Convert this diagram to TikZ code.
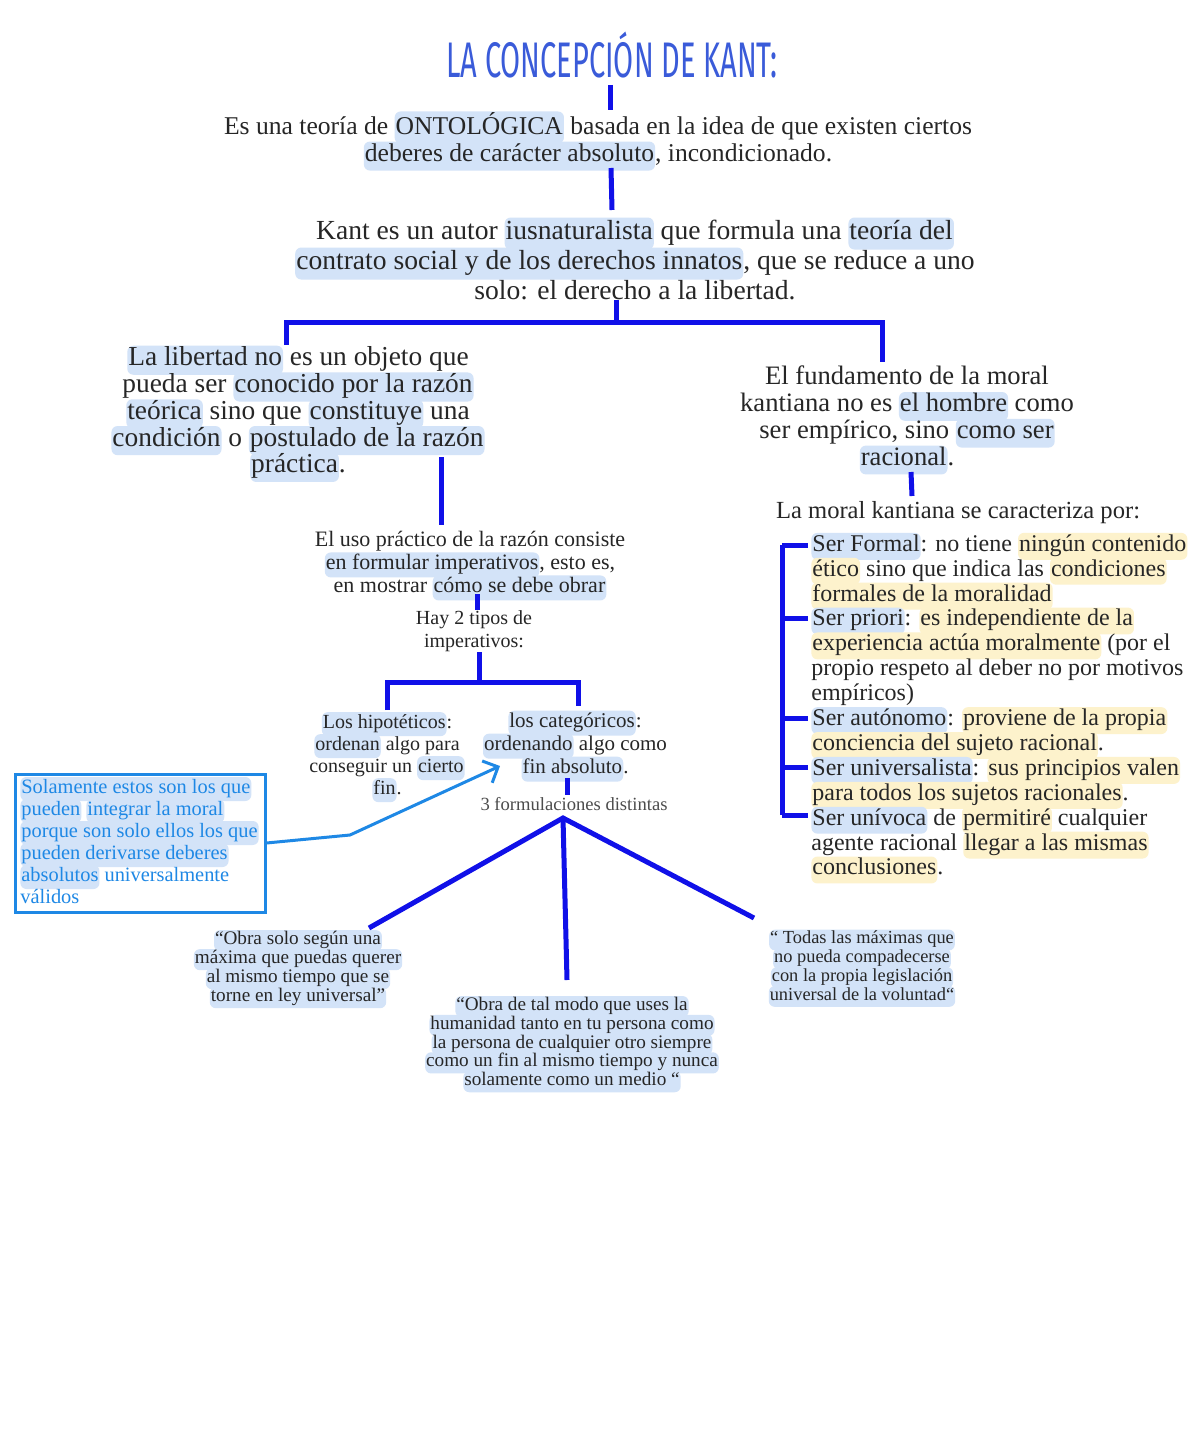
\documentclass[tikz,border=0pt]{standalone}
\usepackage{fontspec}
\usetikzlibrary{arrows.meta}
\setmainfont{Liberation Serif}
\newfontfamily\titlefont{Fira Sans}
\definecolor{hlb}{HTML}{D3E3F8}
\definecolor{hly}{HTML}{FDF2CC}
\definecolor{lineblue}{HTML}{1010E8}
\definecolor{boxblue}{HTML}{1E88E5}
\definecolor{titleblue}{HTML}{3A5BD9}
\newcommand{\hlx}[2]{\smash{\tikz[baseline=(hh.base)]\node[fill=#1,rounded corners=3pt,inner xsep=0.5pt,inner ysep=0.5pt,outer sep=0pt,anchor=base](hh){\strut #2};}}
\newcommand{\hb}[1]{\hlx{hlb}{#1}}
\newcommand{\hy}[1]{\hlx{hly}{#1}}
\tikzset{
 ln/.style={draw=lineblue,line width=2.5pt},
 txt/.style={align=center,inner sep=0pt,text=black!85},
 fs/.style 2 args={font=\fontsize{#1}{#2}\selectfont},
}
\begin{document}
\begin{tikzpicture}[x=0.5pt,y=-0.5pt]
\useasboundingbox (0,0) rectangle (1200,1449);
\fill[white] (0,0) rectangle (1200,1449);
\node[text=titleblue,font=\titlefont\fontsize{25}{28}\selectfont] (title) at (612,55) {\scalebox{0.58}[1]{LA CONCEPCIÓN DE KANT:}};
\node[txt,fs={12.8}{13.5}] (t1) at (598,141) {Es una teoría de \hb{ONTOLÓGICA} basada en la idea de que existen ciertos\\ \hb{deberes de carácter absoluto}, incondicionado.};
\node[txt,fs={13.8}{15}] (t2) at (635,260) {Kant es un autor \hb{iusnaturalista} que formula una \hb{teoría del}\\ \hb{contrato social y de los derechos innatos}, que se reduce a uno\\ solo: el derecho a la libertad.};
\node[txt,fs={13.7}{13.4}] (l1) at (298,410) {\hb{La libertad no} es un objeto que\\ pueda ser \hb{conocido por la razón}\\ \hb{teórica} sino que \hb{constituye} una\\ \hb{condición} o \hb{postulado de la razón}\\ \hb{práctica}.};
\node[txt,fs={13.3}{13.4}] (r1) at (907,416) {El fundamento de la moral\\ kantiana no es \hb{el hombre} como\\ ser empírico, sino \hb{como ser}\\ \hb{racional}.};
\node[txt,fs={11}{11.5}] (uso) at (470,562) {El uso práctico de la razón consiste\\ \hb{en formular imperativos}, esto es,\\ en mostrar \hb{cómo se debe obrar}};
\node[txt,fs={10}{11.5}] (hay) at (474,631) {Hay 2 tipos de\\ imperativos:};
\node[txt,fs={10}{11}] (hip) at (387,757) {\hb{Los hipotéticos}:\\ \hb{ordenan} algo para\\ conseguir un \hb{cierto}\\ \hb{fin}.};
\node[txt,fs={10.5}{11.5}] (cat) at (575,746) {\hb{los categóricos}:\\ \hb{ordenando} algo como\\ \hb{fin absoluto}.};
\node[txt,fs={9.3}{10},text=black!70] (tres) at (574,804) {3 formulaciones distintas};
\node[txt,fs={9.6}{9.5}] (q1) at (298,973) {\hb{“Obra solo según una}\\ \hb{máxima que puedas querer}\\ \hb{al mismo tiempo que se}\\ \hb{torne en ley universal”}};
\node[txt,fs={9.6}{9.4}] (q2) at (572,1048) {\hb{“Obra de tal modo que uses la}\\ \hb{humanidad tanto en tu persona como}\\ \hb{la persona de cualquier otro siempre}\\ \hb{como un fin al mismo tiempo y nunca}\\ \hb{solamente como un medio “}};
\node[txt,fs={9.2}{9.4}] (q3) at (862,972) {\hb{“ Todas las máximas que}\\ \hb{no pueda compadecerse}\\ \hb{con la propia legislación}\\ \hb{universal de la voluntad“}};
\node[draw=boxblue,line width=1.5pt,minimum width=125pt,minimum height=69pt,inner sep=0pt] (box) at (140,843) {};
\node[align=left,anchor=north west,inner sep=0pt,text=boxblue,fs={10.2}{11}] (boxt) at (20,793) {\hb{Solamente estos son los que}\\ \hb{pueden} \hb{integrar la moral}\\ \hb{porque son solo ellos los que}\\ \hb{pueden derivarse deberes}\\ \hb{absolutos} universalmente\\ válidos};
\node[txt,fs={12.3}{13}] (lm) at (958,513) {La moral kantiana se caracteriza por:};
\node[align=left,anchor=north west,inner sep=0pt,fs={12}{12.45},text=black!85] (list) at (811,535) {\hb{Ser Formal}: no tiene \hy{ningún contenido}\\ \hy{ético} sino que indica las \hy{condiciones}\\ \hy{formales de la moralidad}\\ \hb{Ser priori}: \hy{es independiente de la}\\ \hy{experiencia actúa moralmente} (por el\\ propio respeto al deber no por motivos\\ empíricos)\\ \hb{Ser autónomo}: \hy{proviene de la propia}\\ \hy{conciencia del sujeto racional}.\\ \hb{Ser universalista}: \hy{sus principios valen}\\ \hy{para todos los sujetos racionales}.\\ \hb{Ser unívoca} de \hy{permitiré} cualquier\\ agente racional \hy{llegar a las mismas}\\ \hy{conclusiones}.};
% connectors
\coordinate (a1) at (610,85); \coordinate (a2) at (610,110);
\draw[ln] (a1) -- (a2);
\coordinate (b1) at (611,168); \coordinate (b2) at (612,210);
\draw[ln] (b1) -- (b2);
\coordinate (c1) at (616,300); \coordinate (c2) at (616,323);
\coordinate (cl) at (286,323); \coordinate (cr) at (882,323);
\draw[ln] (c1) -- (c2);
\draw[ln] (286,345) -- (cl) -- (cr) -- (882,362);
\coordinate (d1) at (441,457); \coordinate (d2) at (441,525);
\draw[ln] (d1) -- (d2);
\draw[ln] (477,594) -- (477,610);
\draw[ln] (479,652) -- (479,682);
\draw[ln] (387,710) -- (387,682) -- (578,682) -- (578,706);
\draw[ln] (567,778) -- (567,795);
\coordinate (f) at (563,818);
\draw[ln] (369,928) -- (f) -- (754,918);
\draw[ln] (f) -- (567,980);
\draw[ln] (911,472) -- (912,496);
\draw[ln] (782,545) -- (782,815);
\foreach \y in {545,618,718,767,815} \draw[ln] (782,\y) -- (808,\y);
\draw[draw=boxblue,line width=1.5pt,-{Straight Barb[length=6pt]}] (box.east |- 0,843) -- (350,835) -- (500,766);
\end{tikzpicture}
\end{document}
